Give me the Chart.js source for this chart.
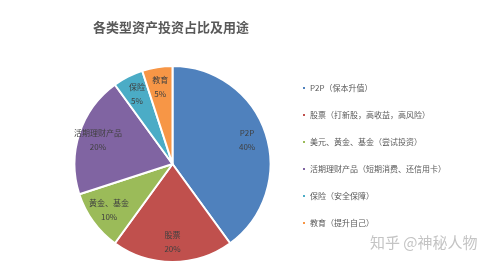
<!DOCTYPE html>
<html>
<head>
<meta charset="utf-8">
<script src="https://cdn.jsdelivr.net/npm/chart.js@4/dist/chart.umd.min.js"></script>
<style>
  html, body { margin: 0; padding: 0; background: #fff; }
  #wrap { width: 486px; height: 264px; position: relative; }
</style>
</head>
<body>
<div id="wrap"><canvas id="pieCanvas"></canvas></div>
<script>
var chartTitle = '各类型资产投资占比及用途';
var shortNames = ['P2P', '股票', '黄金、基金', '活期理财产品', '保险', '教育'];
var legendNames = ['P2P（保本升值）', '股票（打新股，高收益，高风险）', '美元、黄金、基金（尝试投资）',
    '活期理财产品（短期消费、还信用卡）', '保险（安全保障）', '教育（提升自己）'];
var shares = [40, 20, 10, 20, 5, 5];
var colors = ['#4F81BD', '#C0504D', '#9BBB59', '#8064A2', '#4BACC6', '#F79646'];
var watermark = '知乎 @神秘人物';

var fontFam = '"Noto Sans CJK SC", "Microsoft YaHei", sans-serif';

// title, slice labels and watermark
var extras = {
    id: 'extras',
    afterDatasetsDraw: function (chart) {
        var ctx = chart.ctx;
        ctx.save();
        ctx.textAlign = 'center';
        ctx.textBaseline = 'middle';

        ctx.fillStyle = '#595959';
        ctx.font = 'bold 13px ' + fontFam;
        ctx.fillText(chartTitle, 171, 27);

        var meta = chart.getDatasetMeta(0);
        ctx.font = '8px ' + fontFam;
        ctx.fillStyle = '#404040';
        meta.data.forEach(function (arc, i) {
            var mid = (arc.startAngle + arc.endAngle) / 2;
            var r = arc.outerRadius * 0.8;
            var x = arc.x + Math.cos(mid) * r;
            var y = arc.y + Math.sin(mid) * r;
            ctx.fillText(shortNames[i], x, y - 7);
            ctx.fillText(shares[i] + '%', x, y + 7);
        });

        ctx.fillStyle = '#c4c4c4';
        ctx.font = '15px ' + fontFam;
        ctx.textAlign = 'left';
        ctx.fillText(watermark, 370, 242);
        ctx.restore();
    }
};

var pieChart = new Chart(document.getElementById('pieCanvas'), {
    type: 'pie',
    data: {
        labels: legendNames,
        datasets: [{
            data: shares,
            backgroundColor: colors,
            borderColor: '#ffffff',
            borderWidth: 2,
            hoverOffset: 0
        }]
    },
    options: {
        responsive: true,
        maintainAspectRatio: false,
        animation: false,
        layout: { padding: { top: 65, bottom: 1, left: 62, right: 30 } },
        plugins: {
            title: { display: false },
            tooltip: { enabled: false },
            legend: {
                position: 'right',
                align: 'start',
                labels: {
                    boxWidth: 4,
                    boxHeight: 4,
                    padding: 19,
                    color: '#595959',
                    font: { size: 8, family: fontFam }
                }
            }
        }
    },
    plugins: [extras]
});
</script>
</body>
</html>
